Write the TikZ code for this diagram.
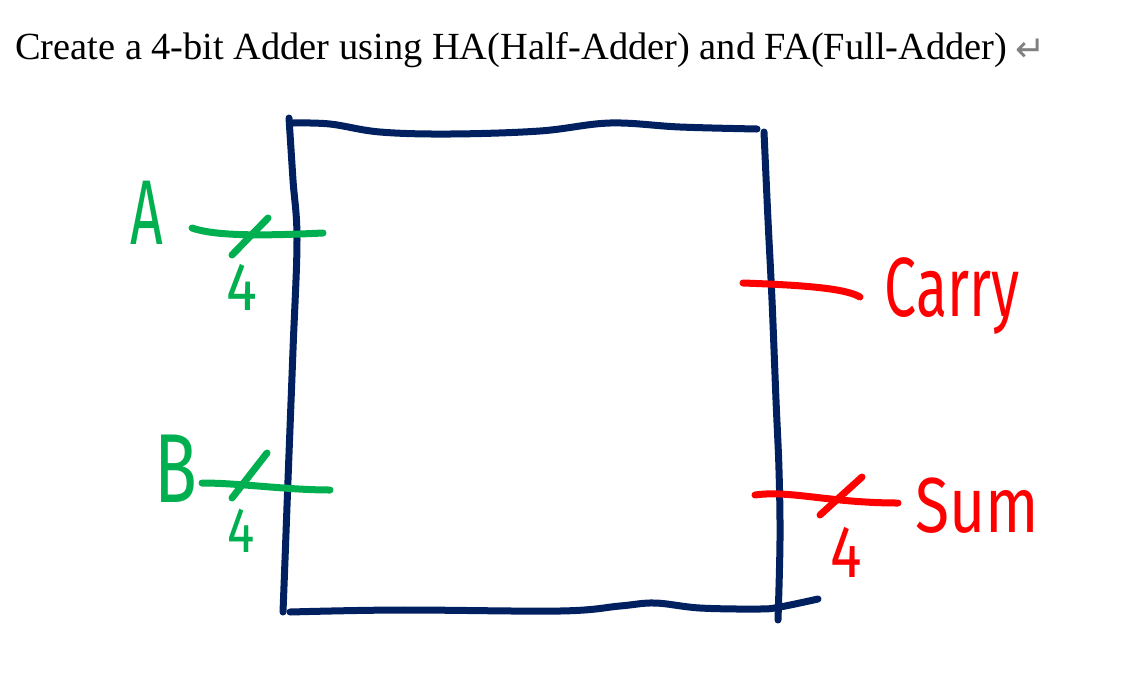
\documentclass[tikz,border=0pt]{standalone}
\usepackage{fontspec}
\setmainfont{Liberation Serif}
\newfontfamily\handfont{Fira Sans}
\newfontfamily\symfont{DejaVu Sans}
\definecolor{boxblue}{HTML}{002060}
\definecolor{pingreen}{HTML}{00B050}
\definecolor{pinred}{HTML}{FF0000}
\tikzset{
  boxstroke/.style={draw=boxblue, line width=7pt, line cap=round, line join=round},
  greenstroke/.style={draw=pingreen, line width=7pt, line cap=round, line join=round},
  redstroke/.style={draw=pinred, line width=7pt, line cap=round, line join=round},
  greenlabel/.style={text=pingreen, anchor=base, inner sep=0pt},
  redlabel/.style={text=pinred, anchor=base, inner sep=0pt},
}
\begin{document}
\begin{tikzpicture}[x=1pt, y=-1pt]
\useasboundingbox (0,0) rectangle (1122,678);
\fill[white] (0,0) rectangle (1122,678);

% title
\node[anchor=base west, inner sep=0pt, font=\fontsize{38.4}{40}\selectfont] (title) at (15,59)
  {Create a 4-bit Adder using HA(Half-Adder) and FA(Full-Adder)};
\node[anchor=base west, inner sep=0pt, text=gray, font=\symfont\fontsize{36}{38}\selectfont] (ret) at (1015,61) {↵};

% box
\draw[boxstroke] plot[smooth, tension=0.6] coordinates {(293,123) (330,124) (380,132) (450,134) (540,131) (610,123) (680,127) (757,129)};
\draw[boxstroke] plot[smooth, tension=0.6] coordinates {(289,118) (293,180) (297,240) (293,350) (288,480) (285,560) (283,612)};
\draw[boxstroke] plot[smooth, tension=0.6] coordinates {(764,132) (768,220) (772,300) (776,400) (779,470) (780,540) (778,620)};
\draw[boxstroke] plot[smooth, tension=0.6] coordinates {(290,612) (400,610) (560,611) (620,606) (655,603) (700,608) (760,609) (780,607) (818,599)};

% A input
\coordinate (a0) at (192,228);
\coordinate (a1) at (323,233);
\draw[greenstroke] (a0) .. controls (215,236) and (260,236) .. (a1);
\coordinate (as0) at (232,255);
\coordinate (as1) at (268,218);
\draw[greenstroke] (as0) -- (as1);
\node[greenlabel, font=\handfont\fontsize{92}{92}\selectfont] (A) at (147,244) {\scalebox{0.62}[1]{A}};
\node[greenlabel, font=\handfont\fontsize{68}{68}\selectfont] (fourA) at (242,310) {\scalebox{0.85}[1]{4}};

% B input
\coordinate (b0) at (202,483);
\coordinate (b1) at (330,490);
\draw[greenstroke] (b0) .. controls (240,483) and (287,490) .. (b1);
\coordinate (bs0) at (232,498);
\coordinate (bs1) at (267,453);
\draw[greenstroke] (bs0) -- (bs1);
\node[greenlabel, font=\handfont\fontsize{98}{98}\selectfont] (B) at (176,502) {\scalebox{0.72}[1]{B}};
\node[greenlabel, font=\handfont\fontsize{64}{64}\selectfont] (fourB) at (241,552) {\scalebox{0.8}[1]{4}};

% Carry output
\coordinate (c0) at (743,283);
\coordinate (c1) at (860,297);
\draw[redstroke] (c0) .. controls (800,285) and (845,288) .. (c1);
\node[redlabel, font=\handfont\fontsize{84}{84}\selectfont] (carry) at (952,316) {\scalebox{0.68}[1]{Carry}};

% Sum output
\coordinate (s0) at (755,495);
\coordinate (s1) at (898,503);
\draw[redstroke] (s0) .. controls (790,490) and (830,503) .. (s1);
\coordinate (ss0) at (820,515);
\coordinate (ss1) at (862,477);
\draw[redstroke] (ss0) -- (ss1);
\node[redlabel, font=\handfont\fontsize{78}{78}\selectfont] (sum) at (977,532) {\scalebox{0.8}[1]{Sum}};
\node[redlabel, font=\handfont\fontsize{74}{74}\selectfont] (fourS) at (846,577) {\scalebox{0.8}[1]{4}};
\end{tikzpicture}
\end{document}
